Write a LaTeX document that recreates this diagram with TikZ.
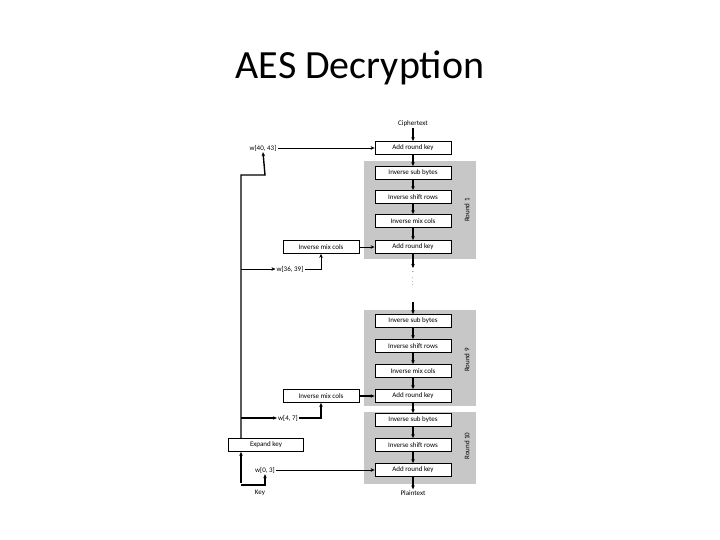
\documentclass[tikz,border=0pt]{standalone}
\usepackage{fontspec}
\setmainfont{Carlito}
\usetikzlibrary{arrows.meta}
\begin{document}
\begin{tikzpicture}[x=1pt,y=-1pt,
  box/.style={draw,thick,fill=white,minimum width=76pt,minimum height=13pt,inner sep=0pt,font=\fontsize{7}{8}\selectfont},
  lbl/.style={inner sep=1pt,font=\fontsize{7}{8}\selectfont},
  ar/.style={-{Stealth[length=4pt,width=3.5pt]}},
  thk/.style={line width=1.4pt},
  gray/.style={fill=black!22,draw=none}]
\useasboundingbox (0,0) rectangle (720,540);
\node[font=\fontsize{40}{44}\selectfont] (title) at (360,68) {AES Decryption};
\fill[gray] (364,161) rectangle (476,259);
\fill[gray] (364,310) rectangle (476,406);
\fill[gray] (364,412) rectangle (476,484);
\node[lbl,rotate=90] (r1) at (467,210) {Round 1};
\node[lbl,rotate=90] (r9) at (467,360) {Round 9};
\node[lbl,rotate=90] (r10) at (467,446) {Round 10};
\node[lbl] (ct) at (413,124) {Ciphertext};
\node[box] (a0) at (413,148) {Add round key};
\node[box] (s1) at (413,173) {Inverse sub bytes};
\node[box] (h1) at (413,197) {Inverse shift rows};
\node[box] (m1) at (413,221) {Inverse mix cols};
\node[box] (a1) at (413,247) {Add round key};
\node[box] (lm1) at (321,247) {Inverse mix cols};
\node[lbl] (d1) at (413,272) {.};
\node[lbl] (dots) at (413,282) {\rotatebox{90}{$\cdots$}};
\coordinate (d0) at (413,268);
\node[box] (s9) at (413,321) {Inverse sub bytes};
\node[box] (h9) at (413,346) {Inverse shift rows};
\node[box] (m9) at (413,371) {Inverse mix cols};
\node[box] (a9) at (413,396) {Add round key};
\node[box] (lm9) at (321,396) {Inverse mix cols};
\node[box] (s10) at (413,420) {Inverse sub bytes};
\node[box] (h10) at (413,445) {Inverse shift rows};
\node[box] (a10) at (413,470) {Add round key};
\node[lbl] (pt) at (413,493) {Plaintext};
\node[lbl] (w40) at (263,148) {w[40, 43]};
\node[lbl] (w36) at (290,269) {w[36, 39]};
\node[lbl] (w4) at (288,418) {w[4, 7]};
\node[lbl] (w0) at (265,470) {w[0, 3]};
\node[lbl] (key) at (260,493) {Key};
\node[box,minimum width=75pt] (ek) at (266,445) {Expand key};
\coordinate (top) at (413,302);
% main chain
\draw[thk,ar] (ct) -- (a0);
\draw[thk,ar] (a0) -- (s1);
\draw[thk,ar] (s1) -- (h1);
\draw[thk,ar] (h1) -- (m1);
\draw[thk,ar] (m1) -- (a1);
\draw[thk,ar] (a1) -- (d0);
\draw[thk,ar] (top) -- (s9);
\draw[thk,ar] (s9) -- (h9);
\draw[thk,ar] (h9) -- (m9);
\draw[thk,ar] (m9) -- (a9);
\draw[thk,ar] (a9) -- (s10);
\draw[thk,ar] (s10) -- (h10);
\draw[thk,ar] (h10) -- (a10);
\draw[thk,ar] (a10) -- (pt);
% keys
\draw[ar] (w40) -- (a0);
\draw[thick,ar] (lm1) -- (a1);
\draw[thk,ar] (lm9) -- (a9);
\draw[ar] (w0) -- (a10);
\draw[thk,ar] (ek.north -| 241,0) -- (241,175) -- (265,175) -- (w40.south);
\draw[ar] (241,269) -- (w36.west);
\draw[thick,ar] (w36.east) -| (lm1.south);
\draw[thk,ar] (241,418) -- (w4.west);
\draw[thk,ar] (w4.east) -| (lm9.south);
\draw[thk,ar] (key.north -| 241,0) ++(0,-6) -- (ek.south -| 241,0);
\draw[thk,ar] (241,485) -- (265,485) -- (w0.south);
\end{tikzpicture}
\end{document}
